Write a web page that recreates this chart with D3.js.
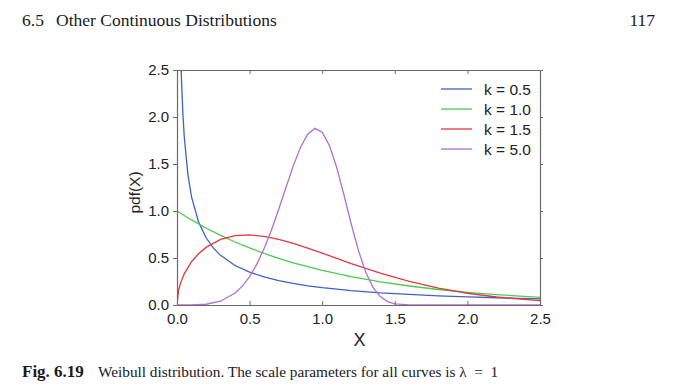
<!DOCTYPE html>
<html><head><meta charset="utf-8">
<script src="https://cdn.jsdelivr.net/npm/d3@7"></script>
<style>body{margin:0;background:#fff}svg{display:block}</style>
</head><body>
<svg id="c" width="673" height="391"></svg>
<script>
// ---- data ----
const seriesNames = ["k = 0.5", "k = 1.0", "k = 1.5", "k = 5.0"];
const seriesColors = ["#3d62c4", "#4fc84f", "#e03a3f", "#b16fd5"];
const k05 = [[0.01,4.52],[0.02,3.07],[0.03,2.43],[0.04,2.05],[0.05,1.79],[0.075,1.39],[0.1,1.15],[0.15,0.876],[0.2,0.715],[0.25,0.607],[0.3,0.528],[0.4,0.42],[0.5,0.349],[0.6,0.298],[0.7,0.259],[0.8,0.229],[0.9,0.204],[1.0,0.184],[1.2,0.153],[1.4,0.129],[1.6,0.112],[1.8,0.097],[2.0,0.086],[2.2,0.077],[2.5,0.065]];
const k10 = [[0,1],[0.1,0.905],[0.2,0.819],[0.3,0.741],[0.4,0.67],[0.5,0.607],[0.6,0.549],[0.7,0.497],[0.8,0.449],[0.9,0.407],[1.0,0.368],[1.2,0.301],[1.4,0.247],[1.6,0.202],[1.8,0.165],[2.0,0.135],[2.2,0.111],[2.5,0.082]];
const k15 = [[0,0],[0.01,0.15],[0.025,0.236],[0.05,0.332],[0.1,0.46],[0.15,0.548],[0.2,0.613],[0.3,0.697],[0.4,0.737],[0.5,0.745],[0.6,0.73],[0.7,0.699],[0.8,0.656],[0.9,0.606],[1.0,0.552],[1.2,0.441],[1.4,0.339],[1.6,0.251],[1.8,0.18],[2.0,0.125],[2.2,0.085],[2.5,0.046]];
const k50 = [[0,0],[0.1,0.0005],[0.2,0.008],[0.3,0.04],[0.4,0.127],[0.45,0.201],[0.5,0.303],[0.55,0.435],[0.6,0.6],[0.65,0.795],[0.7,1.015],[0.75,1.248],[0.8,1.476],[0.85,1.675],[0.9,1.817],[0.95,1.879],[1.0,1.839],[1.05,1.696],[1.1,1.463],[1.15,1.17],[1.2,0.862],[1.25,0.577],[1.3,0.349],[1.35,0.188],[1.4,0.089],[1.45,0.036],[1.5,0.013],[1.6,0.001],[1.7,0],[2.0,0],[2.5,0]];
const allSeries = [k05, k10, k15, k50];
const xTicks = [0, 0.5, 1.0, 1.5, 2.0, 2.5];
const yTicks = [0, 0.5, 1.0, 1.5, 2.0, 2.5];

const svg = d3.select("#c");
const L = 177, R = 540, T = 70, B = 305;
const x = d3.scaleLinear().domain([0, 2.5]).range([L, R]);
const y = d3.scaleLinear().domain([0, 2.5]).range([B, T]);
const axisCol = "#6a6a6a";
const fmt = d3.format(".1f");
const serif = "Liberation Serif, Times New Roman, serif";
const sans = "Liberation Sans, Arial, sans-serif";

// header
svg.append("text").attr("x", 22).attr("y", 26).attr("font-family", serif).attr("font-size", 17.5).attr("fill", "#1a1a1a").text("6.5");
svg.append("text").attr("x", 56).attr("y", 26).attr("font-family", serif).attr("font-size", 17.5).attr("fill", "#1a1a1a").text("Other Continuous Distributions");
svg.append("text").attr("x", 655).attr("y", 26).attr("text-anchor", "end").attr("font-family", serif).attr("font-size", 17.5).attr("fill", "#1a1a1a").text("117");

// clip
svg.append("clipPath").attr("id", "clip").append("rect").attr("x", L).attr("y", T).attr("width", R - L).attr("height", B - T);

// curves
const line = d3.line().x(d => x(d[0])).y(d => y(d[1]));
const g = svg.append("g").attr("clip-path", "url(#clip)");
allSeries.forEach((s, i) => {
  g.append("path").attr("d", line(s)).attr("fill", "none").attr("stroke", seriesColors[i]).attr("stroke-width", 1.3);
});

// axes
function styleAxis(sel) {
  sel.selectAll("path").attr("stroke", axisCol).attr("stroke-width", 1.2);
  sel.selectAll("line").attr("stroke", axisCol).attr("stroke-width", 1);
  sel.selectAll("text").attr("font-family", sans).attr("font-size", 15).attr("fill", "#222");
}
svg.append("g").attr("transform", `translate(0,${B})`)
  .call(d3.axisBottom(x).tickValues(xTicks).tickFormat(fmt).tickSizeInner(-4).tickSizeOuter(0).tickPadding(8))
  .call(styleAxis);
svg.append("g").attr("transform", `translate(${L},0)`)
  .call(d3.axisLeft(y).tickValues(yTicks).tickFormat(fmt).tickSizeInner(4).tickSizeOuter(0).tickPadding(4))
  .call(styleAxis);
svg.append("g").attr("transform", `translate(0,${T})`)
  .call(d3.axisTop(x).tickValues(xTicks).tickFormat("").tickSizeInner(-4).tickSizeOuter(0))
  .call(styleAxis);
svg.append("g").attr("transform", `translate(${R},0)`)
  .call(d3.axisRight(y).tickValues(yTicks).tickFormat("").tickSizeInner(3).tickSizeOuter(0))
  .call(styleAxis);

// axis labels
svg.append("text").attr("x", (L + R) / 2 + 1).attr("y", 346).attr("text-anchor", "middle")
  .attr("font-family", sans).attr("font-size", 18).attr("fill", "#222").text("X");
svg.append("text").attr("transform", `translate(140,${(T + B) / 2 + 5}) rotate(-90)`).attr("text-anchor", "middle")
  .attr("font-family", sans).attr("font-size", 15.5).attr("fill", "#222").text("pdf(X)");

// legend
const lg = svg.append("g");
seriesNames.forEach((n, i) => {
  const yy = 89 + i * 20;
  lg.append("line").attr("x1", 441).attr("x2", 472).attr("y1", yy).attr("y2", yy).attr("stroke", seriesColors[i]).attr("stroke-width", 1.3);
  lg.append("text").attr("x", 484).attr("y", yy + 5.5).attr("font-family", sans).attr("font-size", 15.5).attr("fill", "#222").text(n);
});

// caption
svg.append("text").attr("x", 22).attr("y", 377).attr("font-family", serif).attr("font-size", 17).attr("font-weight", "bold").attr("fill", "#1a1a1a").text("Fig. 6.19");
svg.append("text").attr("x", 98).attr("y", 377).attr("font-family", serif).attr("font-size", 15.3).attr("fill", "#1a1a1a")
  .attr("xml:space", "preserve").text("Weibull distribution. The scale parameters for all curves is λ  =  1");
</script>
</body></html>
